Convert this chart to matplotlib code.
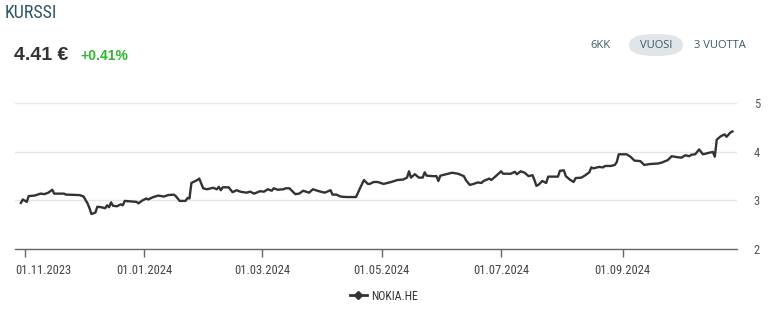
import numpy as np
import pandas as pd
import matplotlib
matplotlib.use("Agg")
import matplotlib.pyplot as plt
import matplotlib.dates as mdates
import matplotlib.transforms as mtransforms
from matplotlib.lines import Line2D
from matplotlib.patches import FancyBboxPatch

# NOKIA.HE daily close
dates = [
    "2023-10-30", "2023-10-31", "2023-11-02", "2023-11-03", "2023-11-06", "2023-11-09",
    "2023-11-11", "2023-11-13", "2023-11-15", "2023-11-16", "2023-11-21", "2023-11-22",
    "2023-11-29", "2023-12-01", "2023-12-03", "2023-12-04", "2023-12-05", "2023-12-07",
    "2023-12-08", "2023-12-10", "2023-12-12", "2023-12-13", "2023-12-14", "2023-12-15",
    "2023-12-16", "2023-12-18", "2023-12-20", "2023-12-21", "2023-12-22", "2023-12-25",
    "2023-12-28", "2023-12-29", "2023-12-31", "2024-01-02", "2024-01-03", "2024-01-05",
    "2024-01-08", "2024-01-11", "2024-01-13", "2024-01-16", "2024-01-17", "2024-01-19",
    "2024-01-22", "2024-01-23", "2024-01-24", "2024-01-25", "2024-01-28", "2024-01-29",
    "2024-01-31", "2024-02-02", "2024-02-05", "2024-02-07", "2024-02-08", "2024-02-09",
    "2024-02-10", "2024-02-13", "2024-02-15", "2024-02-17", "2024-02-19", "2024-02-22",
    "2024-02-24", "2024-02-26", "2024-02-29", "2024-03-02", "2024-03-04", "2024-03-06",
    "2024-03-07", "2024-03-09", "2024-03-12", "2024-03-13", "2024-03-15", "2024-03-18",
    "2024-03-20", "2024-03-22", "2024-03-25", "2024-03-27", "2024-03-30", "2024-04-02",
    "2024-04-05", "2024-04-06", "2024-04-08", "2024-04-10", "2024-04-13", "2024-04-18",
    "2024-04-20", "2024-04-22", "2024-04-24", "2024-04-25", "2024-04-27", "2024-04-29",
    "2024-05-02", "2024-05-06", "2024-05-09", "2024-05-12", "2024-05-14", "2024-05-15",
    "2024-05-16", "2024-05-18", "2024-05-20", "2024-05-22", "2024-05-23", "2024-05-24",
    "2024-05-27", "2024-05-29", "2024-05-30", "2024-05-31", "2024-06-03", "2024-06-06",
    "2024-06-09", "2024-06-12", "2024-06-13", "2024-06-15", "2024-06-17", "2024-06-19",
    "2024-06-21", "2024-06-22", "2024-06-25", "2024-06-26", "2024-06-28", "2024-07-01",
    "2024-07-02", "2024-07-06", "2024-07-08", "2024-07-09", "2024-07-11", "2024-07-13",
    "2024-07-15", "2024-07-17", "2024-07-18", "2024-07-19", "2024-07-20", "2024-07-22",
    "2024-07-24", "2024-07-25", "2024-07-30", "2024-07-31", "2024-08-02", "2024-08-03",
    "2024-08-05", "2024-08-07", "2024-08-08", "2024-08-11", "2024-08-13", "2024-08-15",
    "2024-08-16", "2024-08-17", "2024-08-20", "2024-08-22", "2024-08-23", "2024-08-26",
    "2024-08-28", "2024-08-29", "2024-08-30", "2024-09-03", "2024-09-05", "2024-09-07",
    "2024-09-10", "2024-09-12", "2024-09-15", "2024-09-19", "2024-09-21", "2024-09-24",
    "2024-09-26", "2024-09-29", "2024-10-01", "2024-10-03", "2024-10-05", "2024-10-06",
    "2024-10-08", "2024-10-10", "2024-10-12", "2024-10-14", "2024-10-17", "2024-10-18",
    "2024-10-19", "2024-10-21", "2024-10-23", "2024-10-24", "2024-10-26", "2024-10-27",
]
prices = [
    2.95, 3.02, 2.97, 3.09, 3.10, 3.14,
    3.13, 3.16, 3.22, 3.14, 3.14, 3.12,
    3.11, 3.08, 2.94, 2.84, 2.72, 2.75,
    2.87, 2.86, 2.84, 2.90, 2.86, 2.96,
    2.89, 2.88, 2.92, 2.90, 2.99, 2.98,
    2.97, 2.94, 3.00, 3.04, 3.02, 3.06,
    3.10, 3.08, 3.11, 3.12, 3.09, 2.99,
    2.99, 3.05, 3.04, 3.36, 3.42, 3.45,
    3.25, 3.23, 3.26, 3.23, 3.28, 3.21,
    3.27, 3.27, 3.17, 3.21, 3.18, 3.16,
    3.18, 3.14, 3.19, 3.18, 3.23, 3.20,
    3.25, 3.22, 3.23, 3.25, 3.25, 3.13,
    3.14, 3.20, 3.16, 3.23, 3.19, 3.16,
    3.21, 3.12, 3.12, 3.08, 3.07, 3.07,
    3.25, 3.42, 3.34, 3.34, 3.38, 3.38,
    3.34, 3.38, 3.42, 3.43, 3.47, 3.60,
    3.47, 3.54, 3.47, 3.47, 3.58, 3.51,
    3.50, 3.50, 3.40, 3.51, 3.54, 3.57,
    3.55, 3.50, 3.42, 3.32, 3.34, 3.37,
    3.36, 3.40, 3.45, 3.42, 3.49, 3.60,
    3.55, 3.55, 3.59, 3.54, 3.60, 3.57,
    3.50, 3.52, 3.42, 3.30, 3.32, 3.40,
    3.36, 3.49, 3.49, 3.61, 3.62, 3.50,
    3.43, 3.38, 3.46, 3.47, 3.52, 3.58,
    3.68, 3.66, 3.69, 3.68, 3.71, 3.71,
    3.73, 3.79, 3.95, 3.95, 3.90, 3.82,
    3.81, 3.73, 3.75, 3.76, 3.78, 3.83,
    3.91, 3.89, 3.88, 3.93, 3.91, 3.94,
    3.95, 4.05, 3.95, 3.97, 4.00, 3.90,
    4.25, 4.32, 4.36, 4.31, 4.40, 4.42,
]
tick_dates = ["2023-11-01", "2024-01-01", "2024-03-01", "2024-05-01", "2024-07-01", "2024-09-01"]
y_ticks = [2, 3, 4, 5]
last_price = "4.41 €"
change = "+0.41%"
ranges = ["6KK", "VUOSI", "3 VUOTTA"]
series_name = "NOKIA.HE"

narrow = ["Roboto Condensed", "Barlow Semi Condensed", "DejaVu Sans"]
wide = ["Open Sans", "DejaVu Sans"]
plt.rcParams["font.family"] = ["Liberation Sans", "DejaVu Sans"]

fig = plt.figure(figsize=(7.68, 3.11), dpi=100)
ax = fig.add_axes([15 / 768, 1 - 249 / 311, (737 - 15) / 768, (249 - 103.3) / 311])

x = pd.to_datetime(dates)
ax.plot(x, prices, color="#333333", lw=1.7, solid_joinstyle="round", zorder=3)

ax.set_ylim(2, 5)
ax.set_xlim(pd.Timestamp("2023-10-27"), pd.Timestamp("2024-10-29 08:00"))
ax.set_yticks(y_ticks)
ax.grid(axis="y", color="#e6e6e6", lw=1)
ax.set_axisbelow(True)
for s in ["top", "left", "right"]:
    ax.spines[s].set_visible(False)
ax.spines["bottom"].set_color("#666666")
ax.spines["bottom"].set_linewidth(1)

ax.yaxis.tick_right()
ax.tick_params(axis="y", length=0, pad=12, labelsize=9, labelcolor="#555555")
ax.set_xticks(pd.to_datetime(tick_dates))
ax.xaxis.set_major_formatter(mdates.DateFormatter("%d.%m.%Y"))
ax.tick_params(axis="x", length=6, width=1, color="#666666", pad=5,
               labelsize=9, labelcolor="#444444")
for lab in ax.get_xticklabels() + ax.get_yticklabels():
    lab.set_family(narrow)
# first label is pushed right so it stays inside the chart
first = ax.get_xticklabels()[0]
first.set_ha("left")
first.set_transform(first.get_transform() +
                    mtransforms.ScaledTranslation(-10 / 100, 0, fig.dpi_scale_trans))

# header
fig.text(5 / 768, 1 - 13.5 / 311, "KURSSI", family=narrow, fontsize=13,
         color="#2d5566", va="center", ha="left")
fig.text(14 / 768, 1 - 55 / 311, last_price, fontsize=14, fontweight="bold",
         color="#333333", va="center", ha="left")
fig.text(80 / 768, 1 - 56 / 311, change, fontsize=10, fontweight="bold",
         color="#2eb82e", va="center", ha="left")

pill = FancyBboxPatch((629 / 768, 1 - 56 / 311), 54 / 768, 22 / 311,
                      boxstyle="round,pad=0,rounding_size=0.035",
                      transform=fig.transFigure, fc="#dfe5e8", ec="none",
                      mutation_aspect=311 / 768 * 2.4)
fig.patches.append(pill)
btn_x = [600, 656, 720]
for lbl, bx in zip(ranges, btn_x):
    fig.text(bx / 768, 1 - 46 / 311, lbl, fontsize=8, color="#3b5966",
             va="center", ha="center", family=wide)

# legend
ax_leg = [Line2D([], [], color="#333333", lw=2, marker="D", ms=4.5)]
fig.legend(ax_leg, [series_name], loc="center", bbox_to_anchor=(0.5, 1 - 296 / 311),
           frameon=False, handlelength=1.4, handletextpad=0.4,
           prop={"family": narrow, "size": 8.5}, labelcolor="#333333")

fig.savefig("out.png", dpi=100)
